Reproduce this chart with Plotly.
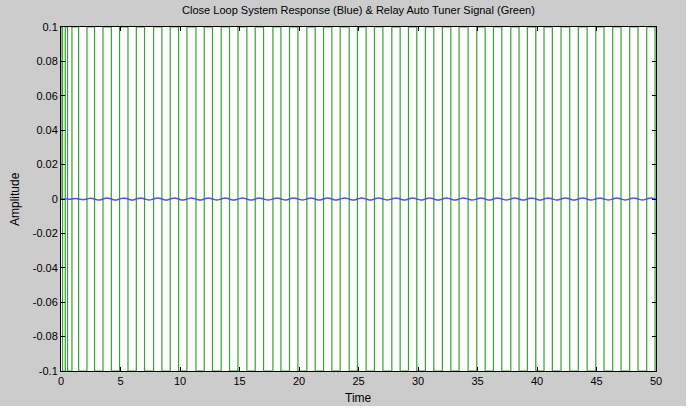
import plotly.graph_objects as go

# relay switching instants (time units)
switch_t = [0.13, 0.36, 0.55, 0.92, 1.48, 2.18, 2.82, 3.53, 4.23, 4.92,
            5.63, 6.33, 7.02, 7.78, 8.48, 9.18, 9.88, 10.58, 11.34, 12.04,
            12.73, 13.46, 14.16, 14.87, 15.62, 16.32, 17.02, 17.81, 18.48, 19.20,
            19.91, 20.66, 21.36, 22.06, 22.76, 23.46, 24.22, 24.91, 25.64, 26.34,
            27.05, 27.80, 28.50, 29.20, 29.90, 30.62, 31.33, 32.05, 32.76, 33.45,
            34.21, 34.94, 35.64, 36.34, 37.04, 37.80, 38.49, 39.19, 39.90, 40.59,
            41.29, 42.02, 42.75, 43.47, 44.21, 44.94, 45.63, 46.36, 47.06, 47.79,
            48.49, 49.22, 49.92]
relay_amp = 0.1

# response peak in each half cycle after a switch
blue_peak = [-0.0001, 0.0001, -0.0002, 0.0003, -0.0004, 0.0005, -0.0006, 0.0006, -0.0006, 0.0006,
             -0.0006, 0.0006, -0.0006, 0.0006, -0.0006, 0.0006, -0.0006, 0.0006, -0.0006, 0.0006,
             -0.0006, 0.0006, -0.0006, 0.0006, -0.0006, 0.0006, -0.0006, 0.0006, -0.0006, 0.0006,
             -0.0006, 0.0006, -0.0006, 0.0006, -0.0006, 0.0006, -0.0006, 0.0006, -0.0006, 0.0006,
             -0.0006, 0.0006, -0.0006, 0.0006, -0.0006, 0.0006, -0.0006, 0.0006, -0.0006, 0.0006,
             -0.0006, 0.0006, -0.0006, 0.0006, -0.0006, 0.0006, -0.0006, 0.0006, -0.0006, 0.0006,
             -0.0006, 0.0006, -0.0006, 0.0006, -0.0006, 0.0006, -0.0006, 0.0006, -0.0006, 0.0006,
             -0.0006, 0.0006, -0.0001]

x_ticks = [0, 5, 10, 15, 20, 25, 30, 35, 40, 45, 50]
y_ticks = [0.1, 0.08, 0.06, 0.04, 0.02, 0, -0.02, -0.04, -0.06, -0.08, -0.1]
y_labels = ['0.1', '0.08', '0.06', '0.04', '0.02', '0', '-0.02', '-0.04', '-0.06', '-0.08', '-0.1']

# relay square wave
rx = [0, 0] + switch_t + [50]
ry = [0, relay_amp]
for i in range(len(switch_t)):
    ry.append(-ry[-1])

# system response: zero at each switch, peak in between
ends = switch_t + [50]
bx = [0, switch_t[0]]
by = [0, 0]
for i in range(len(switch_t)):
    bx += [(ends[i] + ends[i + 1]) / 2, ends[i + 1]]
    by += [blue_peak[i], 0]

fig = go.Figure()
fig.add_trace(go.Scatter(x=rx, y=ry, mode='lines', line_shape='hv',
                         line=dict(color='rgb(55,160,55)', width=1.2)))
fig.add_trace(go.Scatter(x=bx, y=by, mode='lines', line_shape='spline',
                         line=dict(color='rgb(80,80,245)', width=1.5)))

axis_style = dict(showline=True, linecolor='black', linewidth=1, mirror='ticks',
                  ticks='inside', ticklen=4, tickcolor='black', showgrid=False,
                  zeroline=False, automargin=False, tickfont=dict(size=11, color='black'))

fig.update_layout(
    width=686, height=406,
    paper_bgcolor='#cccccc', plot_bgcolor='white',
    margin=dict(l=61, r=30, t=27, b=35),
    showlegend=False,
    font=dict(family='Liberation Sans, Arial', size=11, color='black'),
    title=dict(text='Close Loop System Response (Blue) & Relay Auto Tuner Signal (Green)',
               x=0.5, xref='paper', y=0.985, yref='container', font=dict(size=11)),
    xaxis=dict(range=[0, 50], tickvals=x_ticks, **axis_style),
    yaxis=dict(range=[-0.1, 0.1], tickvals=y_ticks, ticktext=y_labels, **axis_style),
)

# axis titles
fig.add_annotation(text='Time', xref='paper', yref='paper', x=0.5, y=0,
                   xanchor='center', yanchor='middle', yshift=-27,
                   showarrow=False, font=dict(size=12))
fig.add_annotation(text='Amplitude', xref='paper', yref='paper', x=0, y=0.5,
                   xanchor='center', yanchor='middle', xshift=-46, textangle=-90,
                   showarrow=False, font=dict(size=12))

fig.write_html("out.html", config={'displayModeBar': False},
               post_script="document.body.style.margin='0';")
